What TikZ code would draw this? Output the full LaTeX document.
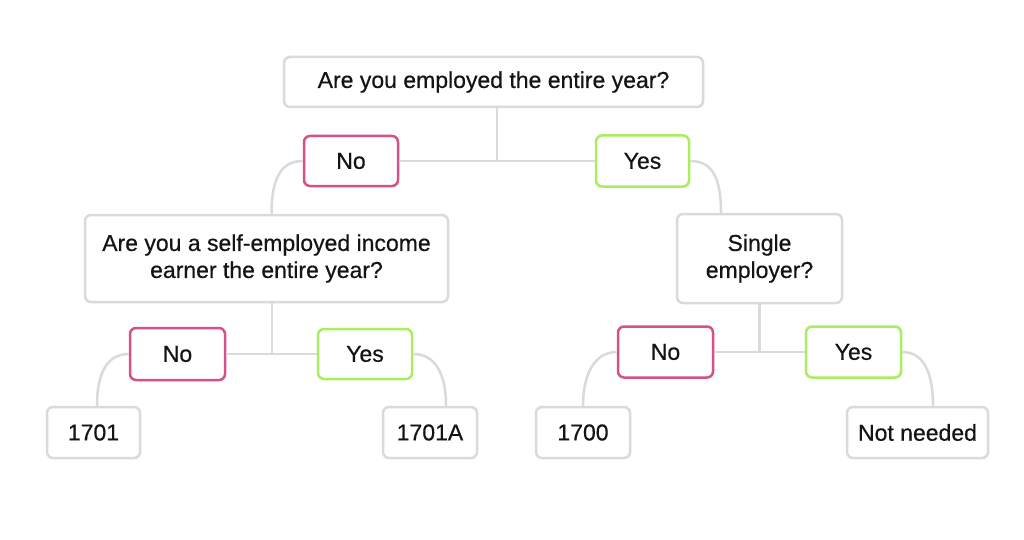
\documentclass[tikz,border=0pt]{standalone}
\usepackage{fontspec}
\setmainfont{Liberation Sans}
\newfontfamily\boxfont{Liberation Sans}[FakeBold=0.5]
\definecolor{boxgray}{HTML}{DADADA}
\definecolor{pinkb}{HTML}{D6508A}
\definecolor{greenb}{HTML}{A8EE5E}
\definecolor{txt}{HTML}{141414}
\begin{document}
\begin{tikzpicture}[x=1pt,y=-1pt,
  box/.style={draw=boxgray, line width=2.5pt, rounded corners=6pt, fill=white,
    inner sep=0pt, align=center, text=txt, font=\boxfont\fontsize{23}{27}\selectfont},
  nobox/.style={box, draw=pinkb},
  yesbox/.style={box, draw=greenb},
  link/.style={draw=boxgray, line width=2.5pt}]
\useasboundingbox (0,0) rectangle (1024,540);
\fill[white] (0,0) rectangle (1024,540);
% nodes
\node[box, minimum width=419pt, minimum height=50pt] (top) at (493.5,82) {Are you employed the entire year?};
\node[nobox, minimum width=94pt, minimum height=50pt] (noA) at (351,161) {No};
\node[yesbox, minimum width=93pt, minimum height=51pt] (yesA) at (642.5,161) {Yes};
\node[box, minimum width=363pt, minimum height=87pt] (q2) at (266.5,258.5) {Are you a self-employed income\\earner the entire year?};
\node[box, minimum width=165pt, minimum height=89pt] (q3) at (759.5,258.5) {Single\\employer?};
\node[nobox, minimum width=95pt, minimum height=52pt] (noB) at (177.5,354) {No};
\node[yesbox, minimum width=94pt, minimum height=50pt] (yesB) at (365,354) {Yes};
\node[nobox, minimum width=95pt, minimum height=51pt] (noC) at (665.5,352) {No};
\node[yesbox, minimum width=95pt, minimum height=51pt] (yesC) at (853.5,352) {Yes};
\node[box, minimum width=93pt, minimum height=51pt] (f1701) at (93.5,432.5) {1701};
\node[box, minimum width=94pt, minimum height=51pt] (f1701A) at (430,432.5) {1701A};
\node[box, minimum width=94pt, minimum height=51pt] (f1700) at (583,432.5) {1700};
\node[box, minimum width=141pt, minimum height=51pt] (fnn) at (917.5,432.5) {Not needed};
% connectors
\path[link] ([xshift=3.5pt]top.south) -- ([xshift=3.5pt]top.south |- noA.east);
\path[link] (noA.east) -- (yesA.west);
\path[link] (noA.west) .. controls +(-22,0) and +(0,-35) .. ([xshift=5pt]q2.north);
\path[link] (yesA.east) .. controls +(22,0) and +(0,-35) .. ([xshift=-38.5pt]q3.north);
\path[link] ([xshift=5.5pt]q2.south) -- ([xshift=5.5pt]q2.south |- noB.east);
\path[link] (noB.east) -- (yesB.west);
\path[link] (noB.west) .. controls +(-22,0) and +(0,-32) .. ([xshift=3.5pt]f1701.north);
\path[link] (yesB.east) .. controls +(22,0) and +(0,-32) .. ([xshift=16pt]f1701A.north);
\path[link] (q3.south) -- (q3.south |- noC.east);
\path[link] (noC.east) -- (yesC.west);
\path[link] (noC.west) .. controls +(-22,0) and +(0,-32) .. (f1700.north);
\path[link] (yesC.east) .. controls +(22,0) and +(0,-32) .. ([xshift=15.5pt]fnn.north);
\end{tikzpicture}
\end{document}
